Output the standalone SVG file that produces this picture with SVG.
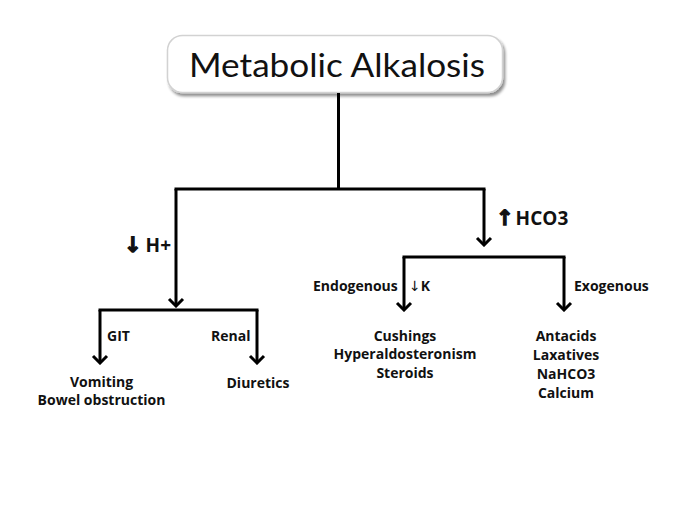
<svg xmlns="http://www.w3.org/2000/svg" width="680" height="510" viewBox="0 0 680 510">
<defs>
<filter id="sh" x="-10%" y="-20%" width="120%" height="150%">
<feGaussianBlur in="SourceAlpha" stdDeviation="1.5"/>
<feOffset dx="2" dy="3" result="b"/>
<feComponentTransfer><feFuncA type="linear" slope="0.45"/></feComponentTransfer>
<feMerge><feMergeNode/><feMergeNode in="SourceGraphic"/></feMerge>
</filter>
<marker id="ah" viewBox="-10 -10 12 20" markerWidth="12" markerHeight="20" refX="0" refY="0" markerUnits="userSpaceOnUse" orient="auto">
<path d="M-7,-7 L0,0 L-7,7" fill="none" stroke="#000" stroke-width="3"/>
</marker>
</defs>
<style>
.c{fill:none;stroke:#000;stroke-width:3}
.a{marker-end:url(#ah)}
.t{font-family:"Open Sans","DejaVu Sans",sans-serif;font-weight:bold;font-size:14px;fill:#111}
.m{text-anchor:middle}
.big{font-size:19px}
.ar{font-family:"DejaVu Sans",sans-serif;font-weight:bold;font-size:21px;stroke:#111;stroke-width:1.3}
</style>
<rect width="680" height="510" fill="#fff"/>
<g id="title">
<rect x="167.5" y="35.5" width="335" height="57" rx="15" fill="#fff" stroke="#d2d2d2" stroke-width="1.5" filter="url(#sh)"/>
<text x="189" y="77" font-family="Lato,'Noto Sans',sans-serif" font-size="33" fill="#111" textLength="296" lengthAdjust="spacingAndGlyphs">Metabolic Alkalosis</text>
</g>
<g id="connectors">
<path class="c" d="M338.5,93 V189"/>
<path class="c" d="M174.5,189 H485.5"/>
<path class="c a" d="M176,189 V306"/>
<path class="c a" d="M484,189 V245"/>
<path class="c" d="M98.5,310 H258.5"/>
<path class="c a" d="M100,310 V363"/>
<path class="c a" d="M257,310 V363"/>
<path class="c" d="M402.5,257 H565.5"/>
<path class="c a" d="M404,257 V310"/>
<path class="c a" d="M564,257 V310"/>
</g>
<g id="h-label">
<text class="t big" x="124" y="252"><tspan class="ar">↓</tspan><tspan dx="4">H+</tspan></text>
</g>
<g id="hco3-label">
<text class="t big" x="496" y="225"><tspan class="ar">↑</tspan><tspan dx="2">HCO3</tspan></text>
</g>
<g id="git">
<text class="t" x="107" y="341">GIT</text>
</g>
<g id="renal">
<text class="t" x="211" y="341">Renal</text>
</g>
<g id="vomiting">
<text class="t m" x="101.5" y="387">Vomiting</text>
<text class="t m" x="101.5" y="405">Bowel obstruction</text>
</g>
<g id="diuretics">
<text class="t m" x="258" y="388">Diuretics</text>
</g>
<g id="endogenous">
<text class="t" x="313" y="291">Endogenous</text>
<text class="t" x="409" y="291"><tspan style="font-family:'DejaVu Sans',sans-serif;font-weight:normal">↓</tspan>K</text>
</g>
<g id="exogenous">
<text class="t" x="574" y="291">Exogenous</text>
</g>
<g id="endo-causes">
<text class="t m" x="405" y="341">Cushings</text>
<text class="t m" x="405" y="359">Hyperaldosteronism</text>
<text class="t m" x="405" y="378">Steroids</text>
</g>
<g id="exo-causes">
<text class="t m" x="566" y="341">Antacids</text>
<text class="t m" x="566" y="360">Laxatives</text>
<text class="t m" x="566" y="379">NaHCO3</text>
<text class="t m" x="566" y="398">Calcium</text>
</g>
</svg>
